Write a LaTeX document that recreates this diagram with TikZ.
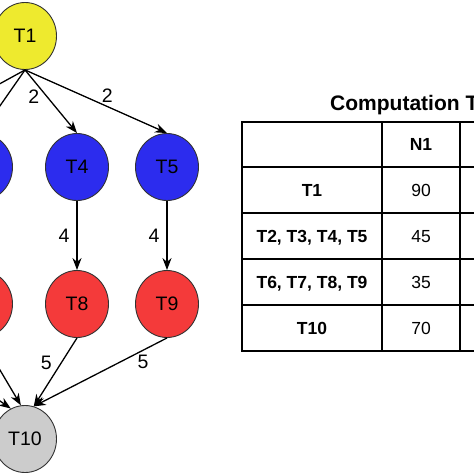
\documentclass[tikz,border=0pt]{standalone}
\usepackage{fontspec}
\setmainfont{Liberation Sans}
\usetikzlibrary{arrows.meta,shapes.geometric}
\definecolor{tyellow}{RGB}{238,234,46}
\definecolor{tblue}{RGB}{44,44,238}
\definecolor{tred}{RGB}{244,58,58}
\definecolor{tgray}{RGB}{204,204,204}
\definecolor{tborder}{RGB}{50,50,50}

\begin{document}
\begin{tikzpicture}[x=1pt,y=-1pt,
    tarea/.style={ellipse,draw=tborder,line width=0.9pt,minimum width=63pt,minimum height=67pt,inner sep=0pt,font=\fontsize{19.5}{19.5}\selectfont},
    flecha/.style={-{Stealth[length=12pt,width=9pt]},line width=1.3pt},
    peso/.style={font=\fontsize{19.5}{19.5}\selectfont,inner sep=2pt},
    celda/.style={font=\fontsize{17.5}{17.5}\selectfont\bfseries,text height=12.6pt,text depth=0pt,inner sep=0pt},
    valor/.style={font=\fontsize{17.5}{17.5}\selectfont,text height=12.6pt,text depth=0pt,inner sep=0pt}]
        \clip (0,0) rectangle (474,474);
        \fill[white] (0,0) rectangle (474,474);

        % Tareas del grafo
        \node[tarea,fill=tyellow] (T1) at (25,36) {T1};
        \node[tarea,fill=tblue] (T2) at (-90,167) {};
        \node[tarea,fill=tblue] (T3) at (-19,167) {};
        \node[tarea,fill=tblue] (T4) at (77,167) {T4};
        \node[tarea,fill=tblue] (T5) at (167,167) {T5};
        \node[tarea,fill=tred] (T6) at (-90,304) {};
        \node[tarea,fill=tred] (T7) at (-19,304) {};
        \node[tarea,fill=tred] (T8) at (77,304) {T8};
        \node[tarea,fill=tred] (T9) at (167,304) {T9};
        \node[tarea,fill=tgray] (T10) at (25,439) {T10};

        % Dependencias con su coste de comunicacion
        \draw[flecha] (T1.south) -- (T2.north);
        \draw[flecha] (T1.south) -- (T3.north);
        \draw[flecha] (T1.south) -- (T4.north) node[peso,pos=.42,left=5pt] {2};
        \draw[flecha] (T1.south) -- (T5.north) node[peso,pos=.58,above=1pt] {2};
        \foreach \a/\b in {T2/T6,T3/T7} {
            \draw[flecha] (\a) -- (\b);
        }
        \draw[flecha] (T4) -- (T8) node[peso,midway,left=5pt] {4};
        \draw[flecha] (T5) -- (T9) node[peso,midway,left=5pt] {4};
        \draw[flecha] (T6.south) -- (T10.115);
        \draw[flecha] (T7.south) -- (T10.97);
        \draw[flecha] (T8.south) -- (T10.75) node[peso,pos=.36,left=7pt] {5};
        \draw[flecha] (T9.south) -- (T10.75) node[peso,pos=.18,below=2pt] {5};

        % Tabla de tiempos
        \node[font=\fontsize{21}{21}\selectfont\bfseries,anchor=base west,inner sep=0pt] (titulo) at (330,110) {Computation T};
        \foreach \y in {122,167,213,259,305,351} {
            \draw[line width=2pt] (242,\y) -- (480,\y);
        }
        \foreach \x in {242,382,460} {
            \draw[line width=2pt] (\x,121) -- (\x,352);
        }
        \node[celda] (n1) at (421,144.5) {N1};
        \foreach \fila/\t [count=\i] in {T1/90,{T2, T3, T4, T5}/45,{T6, T7, T8, T9}/35,T10/70} {
            \node[celda] (f\i) at (312,144.5+46*\i) {\fila};
            \node[valor] (v\i) at (421,144.5+46*\i) {\t};
        }

    \end{tikzpicture}
\end{document}
